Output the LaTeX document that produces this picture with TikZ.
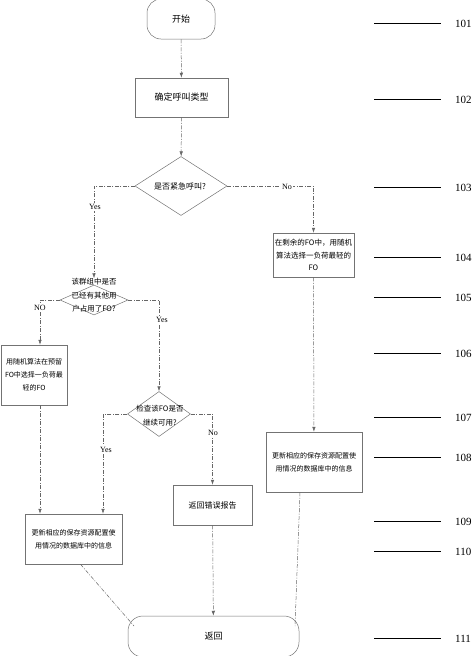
\documentclass[tikz,border=0pt]{standalone}
\usepackage{fontspec}
\setmainfont{Liberation Serif}
\newfontfamily\cjk{Noto Sans CJK SC}
\usetikzlibrary{shapes.geometric,arrows.meta}
\begin{document}
\begin{tikzpicture}[x=1pt,y=-1pt,
 box/.style={draw=black!55, line width=0.5pt, inner sep=0pt, font=\cjk\fontsize{7}{13}\selectfont, align=center},
 term/.style={draw=black!55, line width=0.5pt, rounded corners=14pt, inner sep=0pt, font=\cjk\fontsize{9}{11}\selectfont},
 dia/.style={draw=black!55, line width=0.5pt, diamond, inner sep=0pt},
 txt/.style={inner sep=0pt, font=\cjk\fontsize{7.5}{13.5}\selectfont, align=center},
 conn/.style={draw=black!60, line width=0.5pt, dash pattern=on 4pt off 1.5pt on 1pt off 1.5pt},
 arr/.style={conn, -{Latex[length=5pt,width=3.5pt]}},
 yn/.style={font=\fontsize{8}{9}\selectfont, fill=white, inner sep=1pt},
 reflbl/.style={font=\fontsize{11}{12}\selectfont, anchor=west, inner sep=0pt},
 refline/.style={draw=black, line width=0.7pt}
]
\useasboundingbox (0,0) rectangle (474,656);

% nodes
\node[term, minimum width=68, minimum height=40] (start) at (181,19) {开始};
\node[box, minimum width=93, minimum height=39, font=\cjk\fontsize{9}{11}\selectfont] (b102) at (181.5,97.5) {确定呼叫类型};
\node[dia, minimum width=92, minimum height=59] (d1) at (181,186) {};
\node[txt, font=\cjk\fontsize{8}{10}\selectfont] (t1) at (180,186) {是否紧急呼叫?};
\node[box, minimum width=81, minimum height=44, font=\cjk\fontsize{7.5}{12.5}\selectfont] (b104) at (313.5,255) {在剩余的FO中，用随机\\算法选择一负荷最轻的\\FO};
\node[dia, minimum width=68, minimum height=30] (d2) at (94,300) {};
\node[txt] (t2) at (94,295.5) {该群组中是否\\已经有其他用\\户占用了FO?};
\node[box, minimum width=66, minimum height=60] (b106) at (34,375) {用随机算法在预留\\FO中选择一负荷最\\轻的FO};
\node[dia, minimum width=63, minimum height=45] (d3) at (159,414) {};
\node[txt] (t3) at (160,415.5) {检查该FO是否\\继续可用?};
\node[box, minimum width=96, minimum height=60] (b108) at (314,462) {更新相应的保存资源配置使\\用情况的数据库中的信息};
\node[box, minimum width=79, minimum height=40, font=\cjk\fontsize{8}{10}\selectfont] (b109) at (212.5,505) {返回错误报告};
\node[box, minimum width=97, minimum height=50] (b110) at (73.5,539) {更新相应的保存资源配置使\\用情况的数据库中的信息};
\node[term, minimum width=171, minimum height=41, rounded corners=15pt] (ret) at (213.5,636.5) {返回};
\coordinate (rl) at (134,626);
\coordinate (rr) at (295,626);

% connectors
\draw[arr] (start) -- (b102);
\draw[arr] (b102) -- (d1);
\draw[arr] (d1.west) -| (t2.north);
\draw[arr] (d1.east) -| (b104.north);
\draw[arr] (b104) -- (b108);
\draw[arr] (d2.west) -| ([xshift=6pt]b106.north);
\draw[arr] (d2.east) -| (d3.north);
\draw[arr] (d3.west) -| ([xshift=29.5pt]b110.north);
\draw[arr] (d3.east) -| (b109.north);
\draw[arr] ([xshift=6pt]b106.south) -- ([xshift=-33.5pt]b110.north);
\draw[arr] (b109) -- (ret);
\draw[conn] ([xshift=7pt]b110.south) -- (rl);
\draw[conn] ([xshift=-14pt]b108.south) -- (rr);

% branch labels
\node[yn] (y1) at (95,207) {Yes};
\node[yn] (n1) at (287,186.5) {No};
\node[yn] (n2) at (40,308) {NO};
\node[yn] (y2) at (162,320) {Yes};
\node[yn] (y3) at (106,450) {Yes};
\node[yn] (n3) at (213,433) {No};

% reference numerals
\foreach \n/\yy in {101/23,102/99,103/187,104/257,105/297,106/353,107/417,108/457,109/521,110/551,111/638}{
  \draw[refline] (374,\yy) -- (441,\yy);
  \node[reflbl] (r\n) at (455,\yy+1) {\n};
}
\end{tikzpicture}
\end{document}
